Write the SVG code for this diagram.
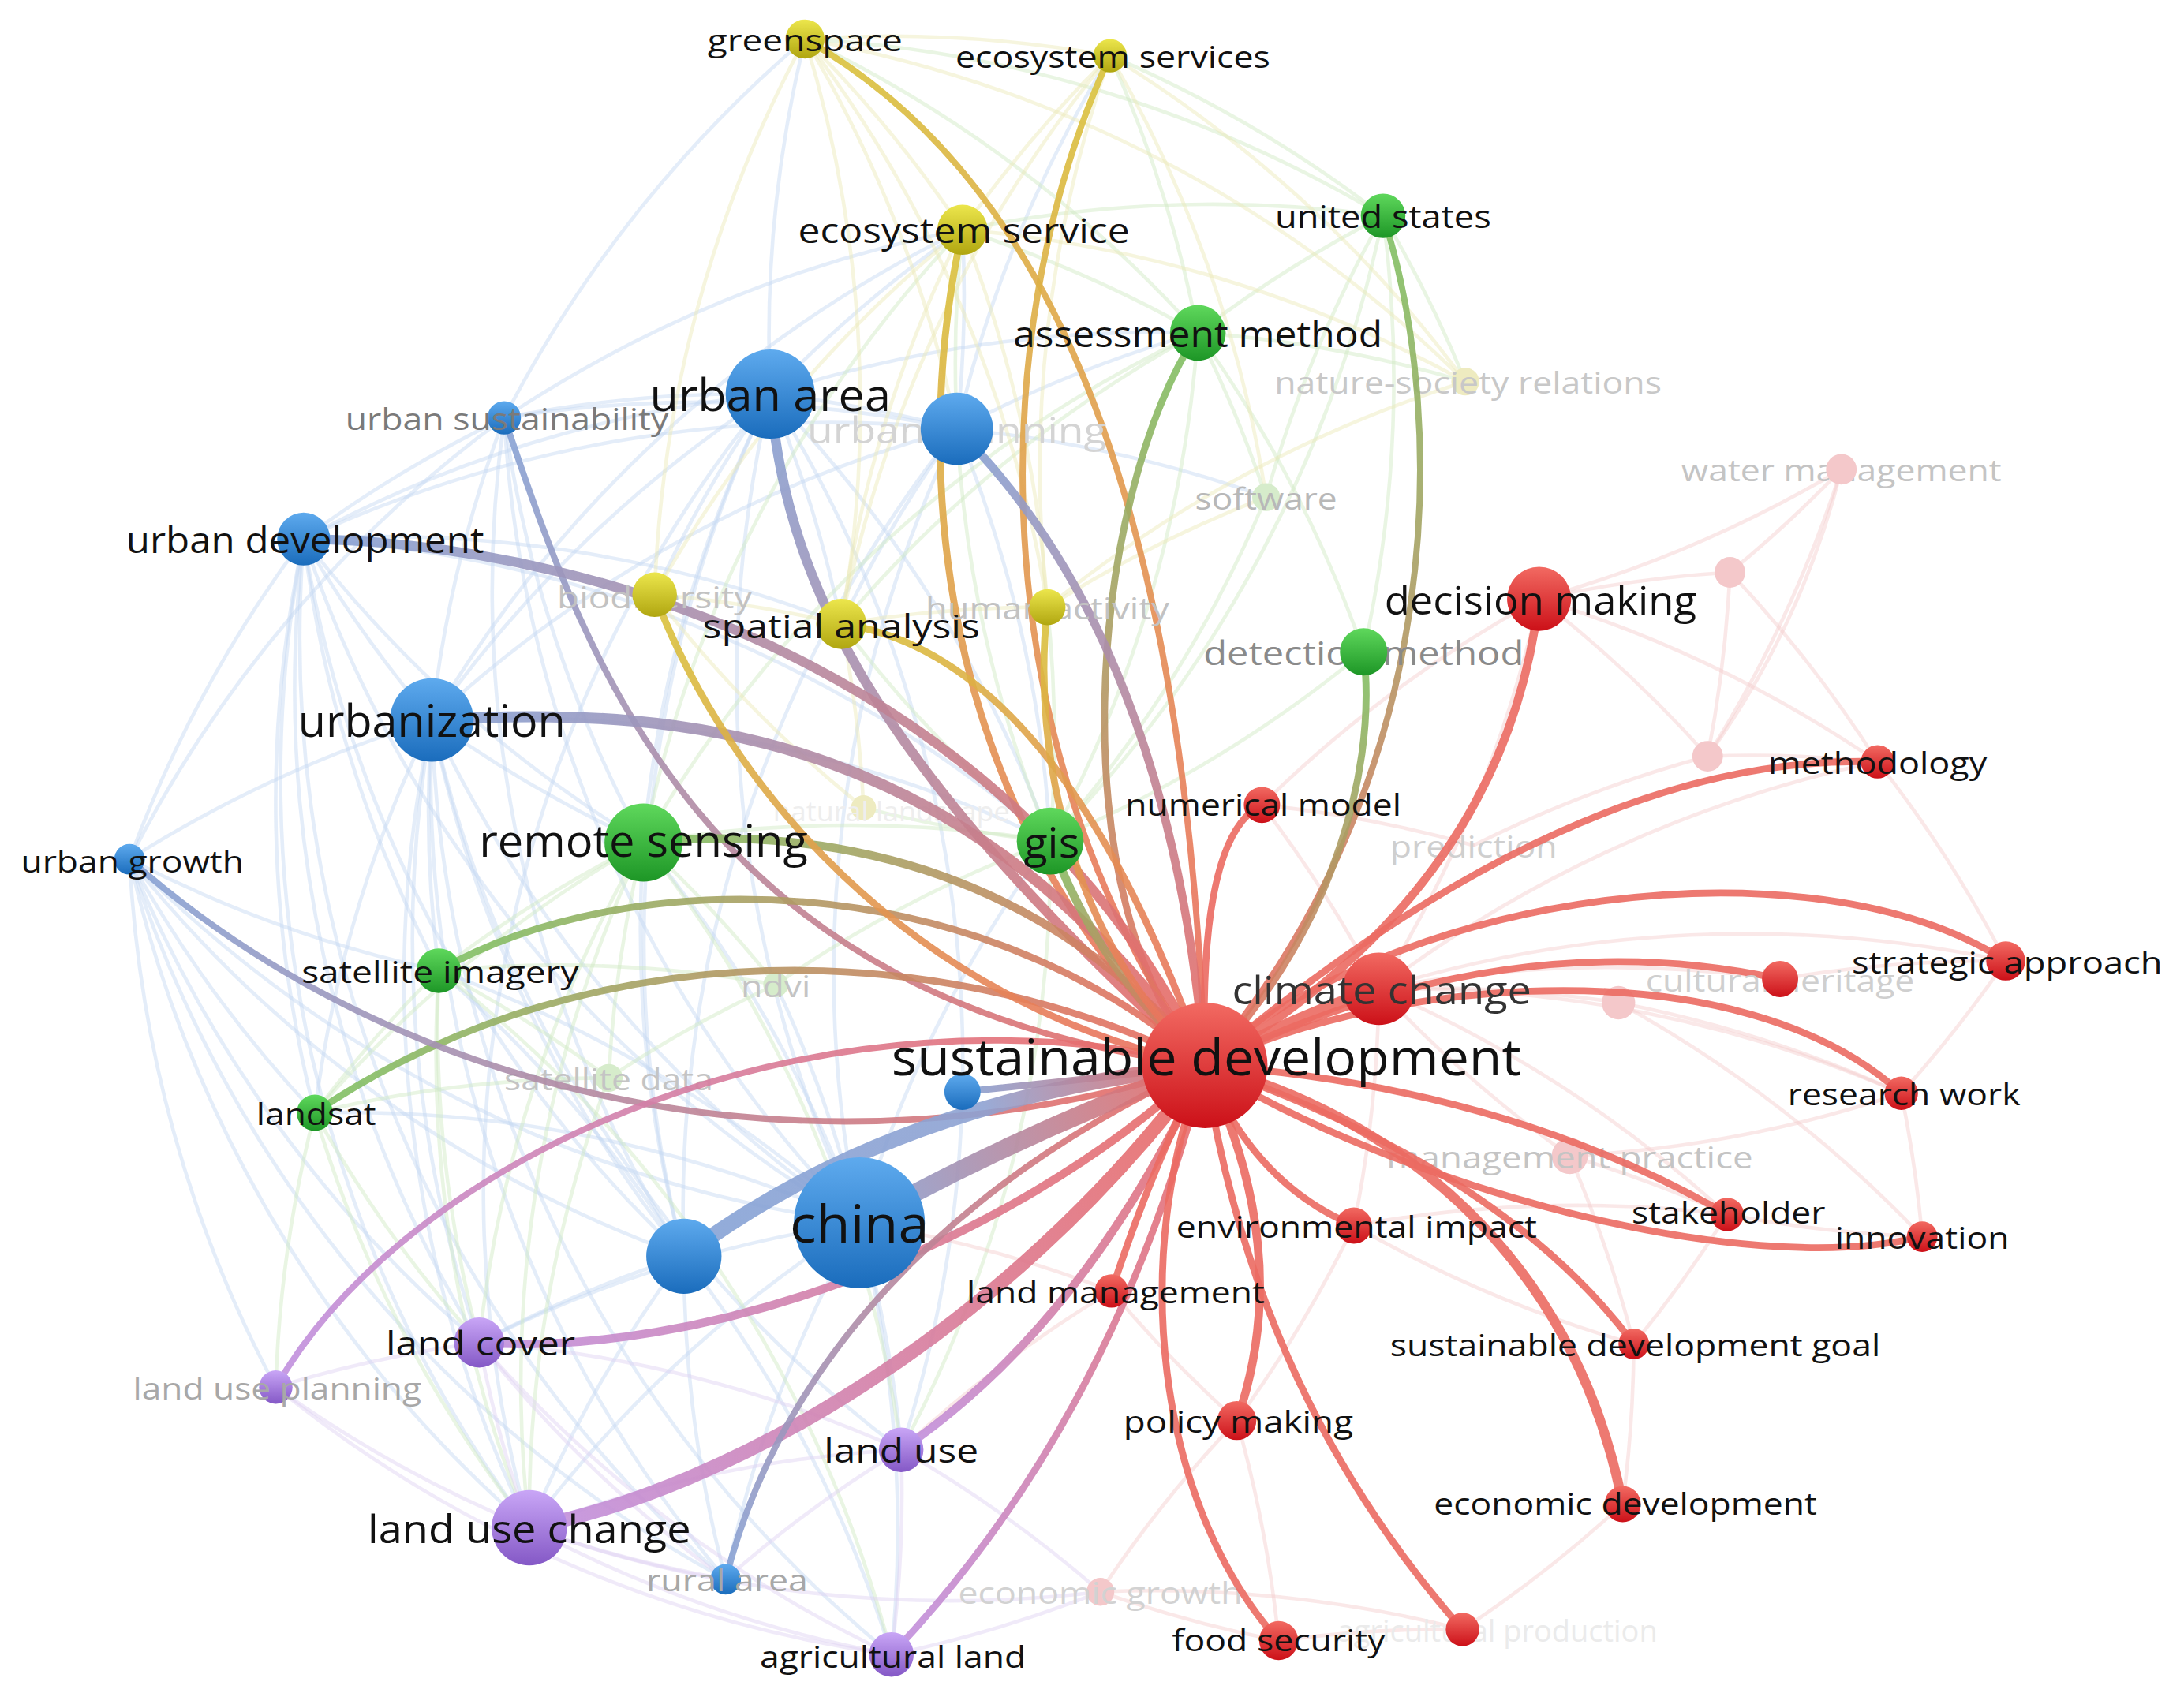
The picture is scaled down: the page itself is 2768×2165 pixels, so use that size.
<svg xmlns="http://www.w3.org/2000/svg" width="2768" height="2165" viewBox="0 0 2768 2165">
<defs>
<style>
.bg path{fill:none;stroke-width:2.6;stroke-linecap:round}
.fb{stroke:#c3d7f1;opacity:.45}
.fg{stroke:#cfe9c2;opacity:.45}
.fy{stroke:#ece8b6;opacity:.45}
.fp{stroke:#ddd0f2;opacity:.45}
.fr{stroke:#f5cccc;opacity:.45}
.ed path{fill:none;stroke-linecap:round;stroke-opacity:.9}
.rr{stroke:#eb6a62}
.lb{font-family:"Open Sans","Liberation Sans",sans-serif;text-anchor:middle;dominant-baseline:central;fill:#111}
.nR{fill:url(#gR)}.nB{fill:url(#gB)}.nG{fill:url(#gG)}.nY{fill:url(#gY)}.nP{fill:url(#gP)}
.fR{fill:#f4c8ca}.fG{fill:#d6eccb}.fY{fill:#eeebc0}
</style>
<linearGradient id="gR" x1="0" y1="0" x2="0" y2="1"><stop offset="0" stop-color="#f26a62"/><stop offset="1" stop-color="#cc1018"/></linearGradient>
<linearGradient id="gB" x1="0" y1="0" x2="0" y2="1"><stop offset="0" stop-color="#5eaaee"/><stop offset="1" stop-color="#1a6cbc"/></linearGradient>
<linearGradient id="gG" x1="0" y1="0" x2="0" y2="1"><stop offset="0" stop-color="#5fd85c"/><stop offset="1" stop-color="#1d9626"/></linearGradient>
<linearGradient id="gY" x1="0" y1="0" x2="0" y2="1"><stop offset="0" stop-color="#ece64c"/><stop offset="1" stop-color="#b0a610"/></linearGradient>
<linearGradient id="gP" x1="0" y1="0" x2="0" y2="1"><stop offset="0" stop-color="#c9a6f6"/><stop offset="1" stop-color="#8458c6"/></linearGradient>
<linearGradient id="e1" gradientUnits="userSpaceOnUse" x1="578" y1="28" x2="865" y2="765"><stop offset="0" stop-color="#d9c43c"/><stop offset="1" stop-color="#eb6a62"/></linearGradient>
<linearGradient id="e2" gradientUnits="userSpaceOnUse" x1="797" y1="40" x2="865" y2="765"><stop offset="0" stop-color="#d9c43c"/><stop offset="1" stop-color="#eb6a62"/></linearGradient>
<linearGradient id="e3" gradientUnits="userSpaceOnUse" x1="691" y1="165" x2="865" y2="765"><stop offset="0" stop-color="#d9c43c"/><stop offset="1" stop-color="#eb6a62"/></linearGradient>
<linearGradient id="e4" gradientUnits="userSpaceOnUse" x1="860" y1="239" x2="865" y2="765"><stop offset="0" stop-color="#7fc264"/><stop offset="1" stop-color="#eb6a62"/></linearGradient>
<linearGradient id="e5" gradientUnits="userSpaceOnUse" x1="993" y1="155" x2="865" y2="765"><stop offset="0" stop-color="#7fc264"/><stop offset="1" stop-color="#eb6a62"/></linearGradient>
<linearGradient id="e6" gradientUnits="userSpaceOnUse" x1="687" y1="308" x2="865" y2="765"><stop offset="0" stop-color="#86a3d6"/><stop offset="1" stop-color="#eb6a62"/></linearGradient>
<linearGradient id="e7" gradientUnits="userSpaceOnUse" x1="553" y1="283" x2="865" y2="765"><stop offset="0" stop-color="#86a3d6"/><stop offset="1" stop-color="#eb6a62"/></linearGradient>
<linearGradient id="e8" gradientUnits="userSpaceOnUse" x1="362" y1="300" x2="865" y2="765"><stop offset="0" stop-color="#86a3d6"/><stop offset="1" stop-color="#eb6a62"/></linearGradient>
<linearGradient id="e9" gradientUnits="userSpaceOnUse" x1="218" y1="387" x2="865" y2="765"><stop offset="0" stop-color="#86a3d6"/><stop offset="1" stop-color="#eb6a62"/></linearGradient>
<linearGradient id="e10" gradientUnits="userSpaceOnUse" x1="310" y1="517" x2="865" y2="765"><stop offset="0" stop-color="#86a3d6"/><stop offset="1" stop-color="#eb6a62"/></linearGradient>
<linearGradient id="e11" gradientUnits="userSpaceOnUse" x1="462" y1="605" x2="865" y2="765"><stop offset="0" stop-color="#7fc264"/><stop offset="1" stop-color="#eb6a62"/></linearGradient>
<linearGradient id="e12" gradientUnits="userSpaceOnUse" x1="315" y1="697" x2="865" y2="765"><stop offset="0" stop-color="#7fc264"/><stop offset="1" stop-color="#eb6a62"/></linearGradient>
<linearGradient id="e13" gradientUnits="userSpaceOnUse" x1="226" y1="799" x2="865" y2="765"><stop offset="0" stop-color="#7fc264"/><stop offset="1" stop-color="#eb6a62"/></linearGradient>
<linearGradient id="e14" gradientUnits="userSpaceOnUse" x1="93" y1="617" x2="865" y2="765"><stop offset="0" stop-color="#86a3d6"/><stop offset="1" stop-color="#eb6a62"/></linearGradient>
<linearGradient id="e15" gradientUnits="userSpaceOnUse" x1="198" y1="996" x2="865" y2="765"><stop offset="0" stop-color="#c091e0"/><stop offset="1" stop-color="#eb6a62"/></linearGradient>
<linearGradient id="e16" gradientUnits="userSpaceOnUse" x1="344" y1="964" x2="865" y2="765"><stop offset="0" stop-color="#c091e0"/><stop offset="1" stop-color="#eb6a62"/></linearGradient>
<linearGradient id="e17" gradientUnits="userSpaceOnUse" x1="380" y1="1097" x2="865" y2="765"><stop offset="0" stop-color="#c091e0"/><stop offset="1" stop-color="#eb6a62"/></linearGradient>
<linearGradient id="e18" gradientUnits="userSpaceOnUse" x1="647" y1="1041" x2="865" y2="765"><stop offset="0" stop-color="#c091e0"/><stop offset="1" stop-color="#eb6a62"/></linearGradient>
<linearGradient id="e19" gradientUnits="userSpaceOnUse" x1="640" y1="1188" x2="865" y2="765"><stop offset="0" stop-color="#c091e0"/><stop offset="1" stop-color="#eb6a62"/></linearGradient>
<linearGradient id="e20" gradientUnits="userSpaceOnUse" x1="521" y1="1134" x2="865" y2="765"><stop offset="0" stop-color="#86a3d6"/><stop offset="1" stop-color="#eb6a62"/></linearGradient>
<linearGradient id="e21" gradientUnits="userSpaceOnUse" x1="617" y1="878" x2="865" y2="765"><stop offset="0" stop-color="#86a3d6"/><stop offset="1" stop-color="#eb6a62"/></linearGradient>
<linearGradient id="e22" gradientUnits="userSpaceOnUse" x1="491" y1="902" x2="865" y2="765"><stop offset="0" stop-color="#86a3d6"/><stop offset="0.6" stop-color="#8ea2d2"/><stop offset="1" stop-color="#eb6a62"/></linearGradient>
<linearGradient id="e23" gradientUnits="userSpaceOnUse" x1="691" y1="784" x2="865" y2="765"><stop offset="0" stop-color="#86a3d6"/><stop offset="1" stop-color="#eb6a62"/></linearGradient>
<linearGradient id="e24" gradientUnits="userSpaceOnUse" x1="754" y1="604" x2="865" y2="765"><stop offset="0" stop-color="#7fc264"/><stop offset="1" stop-color="#eb6a62"/></linearGradient>
<linearGradient id="e25" gradientUnits="userSpaceOnUse" x1="604" y1="448" x2="865" y2="765"><stop offset="0" stop-color="#d9c43c"/><stop offset="1" stop-color="#eb6a62"/></linearGradient>
<linearGradient id="e26" gradientUnits="userSpaceOnUse" x1="470" y1="427" x2="865" y2="765"><stop offset="0" stop-color="#d9c43c"/><stop offset="1" stop-color="#eb6a62"/></linearGradient>
<linearGradient id="e27" gradientUnits="userSpaceOnUse" x1="752" y1="436" x2="865" y2="765"><stop offset="0" stop-color="#d9c43c"/><stop offset="1" stop-color="#eb6a62"/></linearGradient>
<linearGradient id="e28" gradientUnits="userSpaceOnUse" x1="979" y1="468" x2="865" y2="765"><stop offset="0" stop-color="#7fc264"/><stop offset="1" stop-color="#eb6a62"/></linearGradient>
</defs>
<rect width="2768" height="2165" fill="#fff"/>
<g transform="scale(1.7653)">
<g id="faint-connectors" class="bg">
<path class="fb" d="M218,387 A900,900 0 0,0 310,517"/>
<path class="fb" d="M218,387 A900,900 0 0,1 553,283"/>
<path class="fb" d="M218,387 A900,900 0 0,1 362,300"/>
<path class="fb" d="M218,387 A900,900 0 0,0 93,617"/>
<path class="fb" d="M218,387 A900,900 0 0,0 617,878"/>
<path class="fb" d="M218,387 A900,900 0 0,0 491,902"/>
<path class="fb" d="M218,387 A900,900 0 0,0 462,605"/>
<path class="fb" d="M218,387 A900,900 0 0,0 380,1097"/>
<path class="fb" d="M218,387 A900,900 0 0,0 344,964"/>
<path class="fb" d="M218,387 A900,900 0 0,0 315,697"/>
<path class="fb" d="M218,387 A900,900 0 0,1 754,604"/>
<path class="fb" d="M218,387 A900,900 0 0,1 687,308"/>
<path class="fb" d="M218,387 A900,900 0 0,0 226,799"/>
<path class="fb" d="M218,387 A900,900 0 0,0 521,1134"/>
<path class="fb" d="M218,387 A900,900 0 0,1 604,448"/>
<path class="fb" d="M310,517 A900,900 0 0,1 553,283"/>
<path class="fb" d="M310,517 A900,900 0 0,0 93,617"/>
<path class="fb" d="M310,517 A900,900 0 0,0 617,878"/>
<path class="fb" d="M310,517 A900,900 0 0,0 491,902"/>
<path class="fb" d="M310,517 A900,900 0 0,0 462,605"/>
<path class="fb" d="M310,517 A900,900 0 0,0 380,1097"/>
<path class="fb" d="M310,517 A900,900 0 0,0 344,964"/>
<path class="fb" d="M310,517 A900,900 0 0,0 315,697"/>
<path class="fb" d="M310,517 A900,900 0 0,0 226,799"/>
<path class="fb" d="M310,517 A900,900 0 0,1 754,604"/>
<path class="fb" d="M310,517 A900,900 0 0,1 687,308"/>
<path class="fb" d="M310,517 A900,900 0 0,1 691,165"/>
<path class="fb" d="M310,517 A900,900 0 0,0 640,1188"/>
<path class="fb" d="M310,517 A900,900 0 0,0 521,1134"/>
<path class="fb" d="M310,517 A900,900 0 0,0 647,1041"/>
<path class="fb" d="M553,283 A900,900 0 0,1 687,308"/>
<path class="fb" d="M553,283 A900,900 0 0,0 362,300"/>
<path class="fb" d="M553,283 A900,900 0 0,0 617,878"/>
<path class="fb" d="M553,283 A900,900 0 0,0 491,902"/>
<path class="fb" d="M553,283 A900,900 0 0,0 462,605"/>
<path class="fb" d="M553,283 A900,900 0 0,1 754,604"/>
<path class="fb" d="M553,283 A900,900 0 0,1 691,165"/>
<path class="fb" d="M553,283 A900,900 0 0,1 578,28"/>
<path class="fb" d="M553,283 A900,900 0 0,1 860,239"/>
<path class="fb" d="M553,283 A900,900 0 0,1 604,448"/>
<path class="fb" d="M553,283 A900,900 0 0,0 380,1097"/>
<path class="fb" d="M553,283 A900,900 0 0,1 647,1041"/>
<path class="fb" d="M553,283 A900,900 0 0,0 470,427"/>
<path class="fb" d="M93,617 A900,900 0 0,0 617,878"/>
<path class="fb" d="M93,617 A900,900 0 0,0 491,902"/>
<path class="fb" d="M93,617 A900,900 0 0,0 380,1097"/>
<path class="fb" d="M93,617 A900,900 0 0,0 344,964"/>
<path class="fb" d="M93,617 A900,900 0 0,0 226,799"/>
<path class="fb" d="M93,617 A900,900 0 0,0 198,996"/>
<path class="fb" d="M93,617 A900,900 0 0,0 521,1134"/>
<path class="fb" d="M93,617 A900,900 0 0,0 315,697"/>
<path class="fb" d="M93,617 A900,900 0 0,1 362,300"/>
<path class="fb" d="M362,300 A900,900 0 0,0 617,878"/>
<path class="fb" d="M362,300 A900,900 0 0,1 687,308"/>
<path class="fb" d="M362,300 A900,900 0 0,1 691,165"/>
<path class="fb" d="M362,300 A900,900 0 0,0 462,605"/>
<path class="fb" d="M362,300 A900,900 0 0,0 491,902"/>
<path class="fb" d="M362,300 A900,900 0 0,1 578,28"/>
<path class="fb" d="M362,300 A900,900 0 0,0 310,517"/>
<path class="fb" d="M687,308 A900,900 0 0,0 617,878"/>
<path class="fb" d="M687,308 A900,900 0 0,1 754,604"/>
<path class="fb" d="M687,308 A900,900 0 0,1 860,239"/>
<path class="fb" d="M687,308 A900,900 0 0,0 691,165"/>
<path class="fb" d="M687,308 A900,900 0 0,1 797,40"/>
<path class="fb" d="M687,308 A900,900 0 0,0 491,902"/>
<path class="fb" d="M687,308 A900,900 0 0,1 909,357"/>
<path class="fb" d="M687,308 A900,900 0 0,0 604,448"/>
<path class="fb" d="M617,878 A900,900 0 0,0 380,1097"/>
<path class="fb" d="M617,878 A900,900 0 0,0 344,964"/>
<path class="fb" d="M617,878 A900,900 0 0,1 647,1041"/>
<path class="fb" d="M617,878 A900,900 0 0,0 462,605"/>
<path class="fb" d="M617,878 A900,900 0 0,1 754,604"/>
<path class="fb" d="M617,878 A900,900 0 0,1 640,1188"/>
<path class="fb" d="M617,878 A900,900 0 0,0 521,1134"/>
<path class="fb" d="M617,878 A900,900 0 0,0 315,697"/>
<path class="fb" d="M617,878 A900,900 0 0,0 226,799"/>
<path class="fb" d="M617,878 A900,900 0 0,0 557,707"/>
<path class="fb" d="M491,902 A900,900 0 0,0 380,1097"/>
<path class="fb" d="M491,902 A900,900 0 0,1 462,605"/>
<path class="fb" d="M491,902 A900,900 0 0,0 344,964"/>
<path class="fb" d="M491,902 A900,900 0 0,1 640,1188"/>
<path class="fb" d="M491,902 A900,900 0 0,0 521,1134"/>
<path class="fb" d="M491,902 A900,900 0 0,0 315,697"/>
<path class="fg" d="M462,605 A900,900 0 0,1 754,604"/>
<path class="fg" d="M462,605 A900,900 0 0,0 315,697"/>
<path class="fg" d="M462,605 A900,900 0 0,0 226,799"/>
<path class="fg" d="M462,605 A900,900 0 0,0 380,1097"/>
<path class="fg" d="M462,605 A900,900 0 0,0 344,964"/>
<path class="fg" d="M462,605 A900,900 0 0,1 860,239"/>
<path class="fg" d="M462,605 A900,900 0 0,1 691,165"/>
<path class="fg" d="M462,605 A900,900 0 0,1 557,707"/>
<path class="fg" d="M462,605 A900,900 0 0,0 437,774"/>
<path class="fg" d="M462,605 A900,900 0 0,1 647,1041"/>
<path class="fg" d="M754,604 A900,900 0 0,0 860,239"/>
<path class="fg" d="M754,604 A900,900 0 0,0 993,155"/>
<path class="fg" d="M754,604 A900,900 0 0,0 909,357"/>
<path class="fg" d="M754,604 A900,900 0 0,1 604,448"/>
<path class="fg" d="M754,604 A900,900 0 0,1 691,165"/>
<path class="fg" d="M754,604 A900,900 0 0,0 752,436"/>
<path class="fg" d="M754,604 A900,900 0 0,0 979,468"/>
<path class="fg" d="M754,604 A900,900 0 0,1 647,1041"/>
<path class="fg" d="M754,604 A900,900 0 0,1 620,580"/>
<path class="fg" d="M860,239 A900,900 0 0,1 993,155"/>
<path class="fg" d="M860,239 A900,900 0 0,1 909,357"/>
<path class="fg" d="M860,239 A900,900 0 0,1 979,468"/>
<path class="fg" d="M860,239 A900,900 0 0,0 691,165"/>
<path class="fg" d="M860,239 A900,900 0 0,0 578,28"/>
<path class="fg" d="M860,239 A900,900 0 0,0 797,40"/>
<path class="fg" d="M860,239 A900,900 0 0,1 1052,274"/>
<path class="fg" d="M860,239 A900,900 0 0,0 604,448"/>
<path class="fg" d="M993,155 A900,900 0 0,0 691,165"/>
<path class="fg" d="M993,155 A900,900 0 0,0 797,40"/>
<path class="fg" d="M993,155 A900,900 0 0,0 578,28"/>
<path class="fg" d="M993,155 A900,900 0 0,0 909,357"/>
<path class="fg" d="M993,155 A900,900 0 0,1 979,468"/>
<path class="fg" d="M993,155 A900,900 0 0,1 1052,274"/>
<path class="fg" d="M315,697 A900,900 0 0,0 226,799"/>
<path class="fg" d="M315,697 A900,900 0 0,0 380,1097"/>
<path class="fg" d="M315,697 A900,900 0 0,0 344,964"/>
<path class="fg" d="M315,697 A900,900 0 0,1 437,774"/>
<path class="fg" d="M315,697 A900,900 0 0,1 557,707"/>
<path class="fg" d="M315,697 A900,900 0 0,1 640,1188"/>
<path class="fg" d="M226,799 A900,900 0 0,0 380,1097"/>
<path class="fg" d="M226,799 A900,900 0 0,0 344,964"/>
<path class="fg" d="M226,799 A900,900 0 0,1 437,774"/>
<path class="fg" d="M226,799 A900,900 0 0,0 198,996"/>
<path class="fg" d="M437,774 A900,900 0 0,1 557,707"/>
<path class="fg" d="M437,774 A900,900 0 0,0 380,1097"/>
<path class="fg" d="M557,707 A900,900 0 0,1 754,604"/>
<path class="fy" d="M578,28 A900,900 0 0,1 797,40"/>
<path class="fy" d="M578,28 A900,900 0 0,1 691,165"/>
<path class="fy" d="M578,28 A900,900 0 0,0 470,427"/>
<path class="fy" d="M578,28 A900,900 0 0,1 604,448"/>
<path class="fy" d="M578,28 A900,900 0 0,1 752,436"/>
<path class="fy" d="M578,28 A900,900 0 0,1 1052,274"/>
<path class="fy" d="M578,28 A900,900 0 0,1 687,308"/>
<path class="fy" d="M797,40 A900,900 0 0,0 691,165"/>
<path class="fy" d="M797,40 A900,900 0 0,0 752,436"/>
<path class="fy" d="M797,40 A900,900 0 0,1 1052,274"/>
<path class="fy" d="M797,40 A900,900 0 0,1 909,357"/>
<path class="fy" d="M797,40 A900,900 0 0,0 604,448"/>
<path class="fy" d="M691,165 A900,900 0 0,0 470,427"/>
<path class="fy" d="M691,165 A900,900 0 0,0 604,448"/>
<path class="fy" d="M691,165 A900,900 0 0,1 752,436"/>
<path class="fy" d="M691,165 A900,900 0 0,1 1052,274"/>
<path class="fy" d="M470,427 A900,900 0 0,1 604,448"/>
<path class="fy" d="M604,448 A900,900 0 0,1 752,436"/>
<path class="fy" d="M752,436 A900,900 0 0,1 1052,274"/>
<path class="fy" d="M620,580 A900,900 0 0,0 604,448"/>
<path class="fy" d="M620,580 A900,900 0 0,1 470,427"/>
<path class="fy" d="M752,436 A900,900 0 0,1 909,357"/>
<path class="fp" d="M380,1097 A900,900 0 0,1 344,964"/>
<path class="fp" d="M380,1097 A900,900 0 0,1 647,1041"/>
<path class="fp" d="M380,1097 A900,900 0 0,0 640,1188"/>
<path class="fp" d="M380,1097 A900,900 0 0,1 198,996"/>
<path class="fp" d="M380,1097 A900,900 0 0,0 521,1134"/>
<path class="fp" d="M344,964 A900,900 0 0,1 647,1041"/>
<path class="fp" d="M344,964 A900,900 0 0,0 640,1188"/>
<path class="fp" d="M344,964 A900,900 0 0,0 198,996"/>
<path class="fp" d="M647,1041 A900,900 0 0,1 640,1188"/>
<path class="fp" d="M198,996 A900,900 0 0,0 640,1188"/>
<path class="fp" d="M647,1041 A900,900 0 0,0 521,1134"/>
<path class="fp" d="M380,1097 A900,900 0 0,0 790,1143"/>
<path class="fp" d="M640,1188 A900,900 0 0,0 790,1143"/>
<path class="fp" d="M647,1041 A900,900 0 0,1 790,1143"/>
<path class="fp" d="M344,964 A900,900 0 0,0 521,1134"/>
<path class="fr" d="M1105,430 A900,900 0 0,1 990,710"/>
<path class="fr" d="M1105,430 A900,900 0 0,0 1322,337"/>
<path class="fr" d="M1105,430 A900,900 0 0,1 1242,411"/>
<path class="fr" d="M1242,411 A900,900 0 0,1 1226,543"/>
<path class="fr" d="M1322,337 A900,900 0 0,1 1226,543"/>
<path class="fr" d="M990,710 A900,900 0 0,1 1348,547"/>
<path class="fr" d="M990,710 A900,900 0 0,1 1440,690"/>
<path class="fr" d="M990,710 A900,900 0 0,1 1365,785"/>
<path class="fr" d="M990,710 A900,900 0 0,1 1240,872"/>
<path class="fr" d="M990,710 A900,900 0 0,1 1278,703"/>
<path class="fr" d="M990,710 A900,900 0 0,1 1162,720"/>
<path class="fr" d="M990,710 A900,900 0 0,0 1127,830"/>
<path class="fr" d="M1127,830 A900,900 0 0,1 1240,872"/>
<path class="fr" d="M1127,830 A900,900 0 0,0 1365,785"/>
<path class="fr" d="M1162,720 A900,900 0 0,1 1365,785"/>
<path class="fr" d="M1162,720 A900,900 0 0,1 1380,888"/>
<path class="fr" d="M1173,965 A900,900 0 0,1 1165,1080"/>
<path class="fr" d="M1173,965 A900,900 0 0,0 1240,872"/>
<path class="fr" d="M888,1020 A900,900 0 0,1 918,1178"/>
<path class="fr" d="M888,1020 A900,900 0 0,0 790,1143"/>
<path class="fr" d="M790,1143 A900,900 0 0,0 918,1178"/>
<path class="fr" d="M790,1143 A900,900 0 0,1 1050,1170"/>
<path class="fr" d="M918,1178 A900,900 0 0,1 1050,1170"/>
<path class="fr" d="M798,927 A900,900 0 0,0 888,1020"/>
<path class="fr" d="M972,880 A900,900 0 0,1 888,1020"/>
<path class="fr" d="M972,880 A900,900 0 0,1 1240,872"/>
<path class="fr" d="M990,710 A900,900 0 0,0 906,578"/>
<path class="fr" d="M906,578 A900,900 0 0,1 1058,607"/>
<path class="fr" d="M1058,607 A900,900 0 0,1 1226,543"/>
<path class="fr" d="M1105,430 A900,900 0 0,0 906,578"/>
<path class="fr" d="M1105,430 A900,900 0 0,1 1348,547"/>
<path class="fr" d="M1348,547 A900,900 0 0,1 1440,690"/>
<path class="fr" d="M1440,690 A900,900 0 0,1 1365,785"/>
<path class="fr" d="M1365,785 A900,900 0 0,1 1380,888"/>
<path class="fr" d="M1240,872 A900,900 0 0,0 1380,888"/>
<path class="fr" d="M647,1041 A900,900 0 0,1 798,927"/>
<path class="fr" d="M617,878 A900,900 0 0,1 798,927"/>
<path class="fr" d="M1322,337 A900,900 0 0,1 1242,411"/>
<path class="fr" d="M1226,543 A900,900 0 0,1 1348,547"/>
<path class="fr" d="M1105,430 A900,900 0 0,1 1226,543"/>
<path class="fr" d="M990,710 A900,900 0 0,1 972,880"/>
<path class="fr" d="M972,880 A900,900 0 0,0 1173,965"/>
<path class="fr" d="M1165,1080 A900,900 0 0,1 1050,1170"/>
<path class="fr" d="M1127,830 A900,900 0 0,1 1173,965"/>
<path class="fr" d="M1278,703 A900,900 0 0,1 1440,690"/>
<path class="fr" d="M1242,411 A900,900 0 0,1 1348,547"/>
<path class="fr" d="M1322,337 A600,600 0 0,1 1226,543"/>
</g>
<g id="faint-nodes">
<g id="n-water-management"><text class="lb" x="1322" y="337" font-size="22" textLength="230" lengthAdjust="spacingAndGlyphs" style="fill:#c4c4c4">water management</text><circle class="fR" cx="1322" cy="337" r="11"/></g>
<g id="n-pink-1"><circle class="fR" cx="1242" cy="411" r="11"/></g>
<g id="n-pink-2"><circle class="fR" cx="1226" cy="543" r="11"/></g>
<g id="n-pink-3"><circle class="fR" cx="1162" cy="720" r="12"/></g>
<g id="n-management-practice"><circle class="fR" cx="1127" cy="830" r="13"/><text class="lb" x="1127" y="830" font-size="22" textLength="263" lengthAdjust="spacingAndGlyphs" style="fill:#c4c4c4">management practice</text></g>
<g id="n-economic-growth"><circle class="fR" cx="790" cy="1143" r="10"/><text class="lb" x="790" y="1143" font-size="22" textLength="204" lengthAdjust="spacingAndGlyphs" style="fill:#d2d2d2">economic growth</text></g>
<g id="n-prediction"><text class="lb" x="1058" y="607" font-size="22" textLength="120" lengthAdjust="spacingAndGlyphs" style="fill:#cfcfcf">prediction</text></g>
<g id="n-nature-society-relations"><circle class="fY" cx="1052" cy="274" r="10"/><text class="lb" x="1054" y="274" font-size="22" textLength="278" lengthAdjust="spacingAndGlyphs" style="fill:#c8c8c8">nature-society relations</text></g>
<g id="n-software"><circle class="fG" cx="909" cy="357" r="10"/><text class="lb" x="909" y="357" font-size="22" textLength="102" lengthAdjust="spacingAndGlyphs" style="fill:#b8b8b8">software</text></g>
<g id="n-satellite-data"><circle class="fG" cx="437" cy="774" r="10"/><text class="lb" x="437" y="774" font-size="22" textLength="150" lengthAdjust="spacingAndGlyphs" style="fill:#c4c4c4">satellite data</text></g>
<g id="n-ndvi"><circle class="fG" cx="557" cy="707" r="9"/><text class="lb" x="557" y="707" font-size="22" textLength="50" lengthAdjust="spacingAndGlyphs" style="fill:#c4c4c4">ndvi</text></g>
<g id="n-natural-landscape"><circle class="fY" cx="620" cy="580" r="9"/><text class="lb" x="640" y="582" font-size="20" textLength="170" lengthAdjust="spacingAndGlyphs" style="fill:#eeeeee">natural landscape</text></g>
</g>
<g id="connectors" class="ed">
<path stroke="url(#e1)" stroke-width="4.5" d="M578,28 C740,120 850,330 865,765"/>
<path stroke="url(#e2)" stroke-width="4.5" d="M797,40 C700,250 710,550 865,765"/>
<path stroke="url(#e3)" stroke-width="5" d="M691,165 C650,350 680,600 865,765"/>
<path stroke="url(#e4)" stroke-width="5" d="M860,239 C780,360 760,650 865,765"/>
<path stroke="url(#e5)" stroke-width="4.5" d="M993,155 C1040,300 1040,560 865,765"/>
<path stroke="url(#e6)" stroke-width="6" d="M687,308 Q840,460 865,765"/>
<path stroke="url(#e7)" stroke-width="7" d="M553,283 C565,430 640,560 865,765"/>
<path stroke="url(#e8)" stroke-width="4.5" d="M362,300 C420,470 500,720 865,765"/>
<path stroke="url(#e9)" stroke-width="7" d="M218,387 C450,390 740,500 865,765"/>
<path stroke="url(#e10)" stroke-width="8" d="M310,517 C500,505 700,530 865,765"/>
<path stroke="url(#e11)" stroke-width="6" d="M462,605 C600,590 760,630 865,765"/>
<path stroke="url(#e12)" stroke-width="5" d="M315,697 C450,620 700,620 865,765"/>
<path stroke="url(#e13)" stroke-width="5" d="M226,799 C400,680 650,660 865,765"/>
<path stroke="url(#e14)" stroke-width="4.5" d="M93,617 C300,800 600,850 865,765"/>
<path stroke="url(#e15)" stroke-width="4.5" d="M198,996 C300,820 600,700 865,765"/>
<path stroke="url(#e16)" stroke-width="6" d="M344,964 C500,975 720,900 865,765"/>
<path stroke="url(#e17)" stroke-width="10" d="M380,1097 C520,1070 720,960 865,765"/>
<path stroke="url(#e18)" stroke-width="6" d="M647,1041 Q780,950 865,765"/>
<path stroke="url(#e19)" stroke-width="5" d="M640,1188 Q800,1020 865,765"/>
<path stroke="url(#e20)" stroke-width="4.5" d="M521,1134 C560,980 680,850 865,765"/>
<path stroke="url(#e22)" stroke-width="11" d="M491,902 Q640,790 865,765"/>
<path stroke="url(#e21)" stroke-width="13" d="M617,878 Q740,810 865,765"/>
<path stroke="url(#e23)" stroke-width="5" d="M691,784 Q780,775 865,765"/>
<path stroke="url(#e24)" stroke-width="6" d="M754,604 Q790,700 865,765"/>
<path stroke="url(#e25)" stroke-width="5" d="M604,448 Q760,470 865,765"/>
<path stroke="url(#e26)" stroke-width="5" d="M470,427 C520,560 650,720 865,765"/>
<path stroke="url(#e27)" stroke-width="5" d="M752,436 C740,540 770,680 865,765"/>
<path stroke="url(#e28)" stroke-width="5" d="M979,468 C990,560 950,680 865,765"/>
<path class="rr" stroke-width="5" d="M906,578 Q860,600 865,765"/>
<path class="rr" stroke-width="6" d="M1105,430 Q1080,640 865,765"/>
<path class="rr" stroke-width="5" d="M865,765 Q1130,540 1348,547"/>
<path class="rr" stroke-width="5" d="M865,765 C1000,640 1300,600 1440,690"/>
<path class="rr" stroke-width="5" d="M865,765 Q1080,660 1278,703"/>
<path class="rr" stroke-width="5" d="M865,765 C1000,700 1250,680 1365,785"/>
<path class="rr" stroke-width="9" d="M865,765 Q930,730 990,710"/>
<path class="rr" stroke-width="5" d="M865,765 Q1080,780 1240,872"/>
<path class="rr" stroke-width="5" d="M865,765 C1000,850 1250,920 1380,888"/>
<path class="rr" stroke-width="5" d="M865,765 Q1080,840 1173,965"/>
<path class="rr" stroke-width="7" d="M865,765 C1000,800 1130,900 1165,1080"/>
<path class="rr" stroke-width="5" d="M865,765 Q900,850 972,880"/>
<path class="rr" stroke-width="5" d="M865,765 Q830,830 798,927"/>
<path class="rr" stroke-width="6" d="M865,765 Q930,900 888,1020"/>
<path class="rr" stroke-width="5" d="M865,765 C810,900 830,1080 918,1178"/>
<path class="rr" stroke-width="5" d="M865,765 Q900,1000 1050,1170"/>
</g>
<g id="nodes">
<g id="n-greenspace"><circle class="nY" cx="578" cy="28" r="14"/><text class="lb" x="578" y="28" font-size="22" textLength="140" lengthAdjust="spacingAndGlyphs">greenspace</text></g>
<g id="n-ecosystem-services"><circle class="nY" cx="797" cy="40" r="12"/><text class="lb" x="799" y="40" font-size="22" textLength="226" lengthAdjust="spacingAndGlyphs">ecosystem services</text></g>
<g id="n-ecosystem-service"><circle class="nY" cx="691" cy="165" r="18"/><text class="lb" x="692" y="165" font-size="25" textLength="238" lengthAdjust="spacingAndGlyphs">ecosystem service</text></g>
<g id="n-united-states"><circle class="nG" cx="993" cy="155" r="16"/><text class="lb" x="993" y="155" font-size="23" textLength="155" lengthAdjust="spacingAndGlyphs">united states</text></g>
<g id="n-assessment-method"><circle class="nG" cx="860" cy="239" r="20"/><text class="lb" x="860" y="239" font-size="26" textLength="265" lengthAdjust="spacingAndGlyphs">assessment method</text></g>
<g id="n-urban-planning"><text class="lb" x="687" y="308" font-size="26" textLength="215" lengthAdjust="spacingAndGlyphs" style="fill:#d4d4d4">urban planning</text><circle class="nB" cx="687" cy="308" r="26"/></g>
<g id="n-urban-area"><circle class="nB" cx="553" cy="283" r="32"/><text class="lb" x="553" y="283" font-size="32" textLength="173" lengthAdjust="spacingAndGlyphs">urban area</text></g>
<g id="n-urban-sustainability"><circle class="nB" cx="362" cy="300" r="12"/><text class="lb" x="364" y="300" font-size="22" textLength="232" lengthAdjust="spacingAndGlyphs" style="fill:#7a7a7a">urban sustainability</text></g>
<g id="n-urban-development"><circle class="nB" cx="218" cy="387" r="19"/><text class="lb" x="219" y="387" font-size="26" textLength="257" lengthAdjust="spacingAndGlyphs">urban development</text></g>
<g id="n-biodiversity"><text class="lb" x="470" y="428" font-size="22" textLength="140" lengthAdjust="spacingAndGlyphs" style="fill:#c2c2c2">biodiversity</text><circle class="nY" cx="470" cy="427" r="16"/></g>
<g id="n-spatial-analysis"><circle class="nY" cx="604" cy="448" r="18"/><text class="lb" x="604" y="449" font-size="24" textLength="199" lengthAdjust="spacingAndGlyphs">spatial analysis</text></g>
<g id="n-human-activity"><text class="lb" x="752" y="436" font-size="22" textLength="175" lengthAdjust="spacingAndGlyphs" style="fill:#c2c2c2">human activity</text><circle class="nY" cx="752" cy="436" r="13"/></g>
<g id="n-detection-method"><text class="lb" x="979" y="468" font-size="24" textLength="230" lengthAdjust="spacingAndGlyphs" style="fill:#8a8a8a">detection method</text><circle class="nG" cx="979" cy="468" r="17"/></g>
<g id="n-decision-making"><circle class="nR" cx="1105" cy="430" r="23"/><text class="lb" x="1106" y="430" font-size="28" textLength="224" lengthAdjust="spacingAndGlyphs">decision making</text></g>
<g id="n-urbanization"><circle class="nB" cx="310" cy="517" r="30"/><text class="lb" x="310" y="517" font-size="32" textLength="192" lengthAdjust="spacingAndGlyphs">urbanization</text></g>
<g id="n-methodology"><circle class="nR" cx="1348" cy="547" r="12"/><text class="lb" x="1348" y="547" font-size="22" textLength="157" lengthAdjust="spacingAndGlyphs">methodology</text></g>
<g id="n-numerical-model"><circle class="nR" cx="906" cy="578" r="13"/><text class="lb" x="907" y="577" font-size="22" textLength="198" lengthAdjust="spacingAndGlyphs">numerical model</text></g>
<g id="n-remote-sensing"><circle class="nG" cx="462" cy="605" r="28"/><text class="lb" x="462" y="603" font-size="32" textLength="236" lengthAdjust="spacingAndGlyphs">remote sensing</text></g>
<g id="n-gis"><circle class="nG" cx="754" cy="604" r="24"/><text class="lb" x="755" y="604" font-size="30" textLength="40" lengthAdjust="spacingAndGlyphs">gis</text></g>
<g id="n-urban-growth"><circle class="nB" cx="93" cy="617" r="11"/><text class="lb" x="95" y="618" font-size="22" textLength="160" lengthAdjust="spacingAndGlyphs">urban growth</text></g>
<g id="n-satellite-imagery"><circle class="nG" cx="315" cy="697" r="16"/><text class="lb" x="316" y="697" font-size="22" textLength="199" lengthAdjust="spacingAndGlyphs">satellite imagery</text></g>
<g id="n-cultural-heritage"><text class="lb" x="1278" y="703" font-size="22" textLength="193" lengthAdjust="spacingAndGlyphs" style="fill:#cfcfcf">cultural heritage</text><circle class="nR" cx="1278" cy="703" r="13"/></g>
<g id="n-strategic-approach"><circle class="nR" cx="1440" cy="690" r="14"/><text class="lb" x="1441" y="690" font-size="22" textLength="223" lengthAdjust="spacingAndGlyphs">strategic approach</text></g>
<g id="n-landsat"><circle class="nG" cx="226" cy="799" r="13"/><text class="lb" x="227" y="799" font-size="22" textLength="86" lengthAdjust="spacingAndGlyphs">landsat</text></g>
<g id="n-research-work"><circle class="nR" cx="1365" cy="785" r="12"/><text class="lb" x="1367" y="785" font-size="22" textLength="167" lengthAdjust="spacingAndGlyphs">research work</text></g>
<g id="n-blue-small"><circle class="nB" cx="691" cy="784" r="13"/></g>
<g id="n-climate-change"><circle class="nR" cx="990" cy="710" r="26"/><text class="lb" x="992" y="710" font-size="28" textLength="215" lengthAdjust="spacingAndGlyphs" style="fill:#333">climate change</text></g>
<g id="n-sustainable-development"><circle class="nR" cx="865" cy="765" r="45"/><text class="lb" x="866" y="758" font-size="36" textLength="452" lengthAdjust="spacingAndGlyphs">sustainable development</text></g>
<g id="n-stakeholder"><circle class="nR" cx="1240" cy="872" r="12"/><text class="lb" x="1241" y="870" font-size="22" textLength="139" lengthAdjust="spacingAndGlyphs">stakeholder</text></g>
<g id="n-environmental-impact"><circle class="nR" cx="972" cy="880" r="13"/><text class="lb" x="974" y="880" font-size="22" textLength="259" lengthAdjust="spacingAndGlyphs">environmental impact</text></g>
<g id="n-innovation"><circle class="nR" cx="1380" cy="888" r="11"/><text class="lb" x="1380" y="888" font-size="22" textLength="125" lengthAdjust="spacingAndGlyphs">innovation</text></g>
<g id="n-blue-large"><circle class="nB" cx="491" cy="902" r="27"/></g>
<g id="n-china"><circle class="nB" cx="617" cy="878" r="47"/><text class="lb" x="617" y="878" font-size="37" textLength="100" lengthAdjust="spacingAndGlyphs">china</text></g>
<g id="n-land-management"><circle class="nR" cx="798" cy="927" r="12"/><text class="lb" x="801" y="927" font-size="22" textLength="214" lengthAdjust="spacingAndGlyphs">land management</text></g>
<g id="n-land-cover"><circle class="nP" cx="344" cy="964" r="18"/><text class="lb" x="345" y="964" font-size="24" textLength="136" lengthAdjust="spacingAndGlyphs">land cover</text></g>
<g id="n-sustainable-development-goal"><circle class="nR" cx="1173" cy="965" r="11"/><text class="lb" x="1174" y="965" font-size="22" textLength="352" lengthAdjust="spacingAndGlyphs">sustainable development goal</text></g>
<g id="n-land-use-planning"><circle class="nP" cx="198" cy="996" r="12"/><text class="lb" x="199" y="996" font-size="22" textLength="207" lengthAdjust="spacingAndGlyphs" style="fill:#a8a8a8">land use planning</text></g>
<g id="n-policy-making"><circle class="nR" cx="888" cy="1020" r="14"/><text class="lb" x="889" y="1020" font-size="22" textLength="165" lengthAdjust="spacingAndGlyphs">policy making</text></g>
<g id="n-land-use"><circle class="nP" cx="647" cy="1041" r="16"/><text class="lb" x="647" y="1041" font-size="24" textLength="111" lengthAdjust="spacingAndGlyphs">land use</text></g>
<g id="n-economic-development"><circle class="nR" cx="1165" cy="1080" r="13"/><text class="lb" x="1167" y="1079" font-size="22" textLength="275" lengthAdjust="spacingAndGlyphs">economic development</text></g>
<g id="n-land-use-change"><circle class="nP" cx="380" cy="1097" r="27"/><text class="lb" x="380" y="1097" font-size="28" textLength="232" lengthAdjust="spacingAndGlyphs">land use change</text></g>
<g id="n-rural-area"><circle class="nB" cx="521" cy="1134" r="11"/><text class="lb" x="522" y="1134" font-size="22" textLength="116" lengthAdjust="spacingAndGlyphs" style="fill:#a8a8a8">rural area</text></g>
<g id="n-agricultural-production"><text class="lb" x="1075" y="1170" font-size="22" textLength="230" lengthAdjust="spacingAndGlyphs" style="fill:#ebebeb">agricultural production</text><circle class="nR" cx="1050" cy="1170" r="12"/></g>
<g id="n-food-security"><circle class="nR" cx="918" cy="1178" r="14"/><text class="lb" x="918" y="1177" font-size="22" textLength="153" lengthAdjust="spacingAndGlyphs">food security</text></g>
<g id="n-agricultural-land"><circle class="nP" cx="640" cy="1188" r="16"/><text class="lb" x="641" y="1189" font-size="22" textLength="191" lengthAdjust="spacingAndGlyphs">agricultural land</text></g>
</g>
</g>
</svg>
